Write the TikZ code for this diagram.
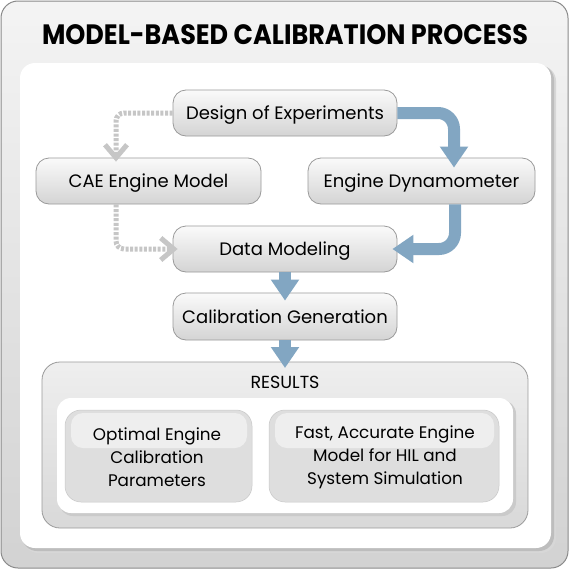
\documentclass[tikz,border=0pt]{standalone}
\usepackage{fontspec}
\setmainfont{Poppins}
\usetikzlibrary{arrows.meta}
\definecolor{frameborder}{HTML}{8A8A8A}
\definecolor{frametop}{HTML}{F4F4F4}
\definecolor{framebot}{HTML}{D2D2D2}
\definecolor{boxtop}{HTML}{FAFAFA}
\definecolor{boxbot}{HTML}{D4D4D4}
\definecolor{boxborder}{HTML}{9A9A9A}
\definecolor{flowblue}{HTML}{82A6C2}
\definecolor{dotgray}{HTML}{C6C6C6}
\definecolor{shadowgray}{HTML}{BDBDBD}
\definecolor{subfill}{HTML}{DEDEDE}
\definecolor{subhigh}{HTML}{EEEEEE}
\begin{document}
\begin{tikzpicture}[x=1pt,y=-1pt,
  stepbox/.style={draw=boxborder, line width=0.8pt, rounded corners=13pt,
    top color=boxtop, bottom color=boxbot, minimum width=224pt,
    minimum height=46pt, inner sep=0pt, text height=16pt, text depth=2.5pt,
    font=\fontsize{18}{21}\selectfont},
  bluearrow/.style={draw=flowblue, line width=12pt, rounded corners=16pt,
    -{Triangle[length=21pt,width=27pt]}},
  dotarrow/.style={draw=dotgray, line width=5pt, rounded corners=8pt,
    dash pattern=on 3pt off 1.6pt,
    -{Straight Barb[length=13pt,width=22pt]}},
  subbox/.style={draw=subfill!90!black, line width=0.5pt, fill=subfill,
    rounded corners=16pt, inner sep=0pt, minimum height=92pt},
  subtext/.style={align=center, font=\fontsize{16.8}{23}\selectfont},
]
\useasboundingbox (0,0) rectangle (570,570);
% outer frame
\draw[frameborder, line width=1pt, rounded corners=17pt, top color=frametop, bottom color=framebot]
  (1,1) rectangle (568,568);
\node[font=\fontsize{28}{30}\selectfont\bfseries, inner sep=0pt] (title) at (285,35)
  {\scalebox{0.91}[1]{MODEL-BASED CALIBRATION PROCESS}};
% white panel with shadow
\fill[shadowgray!60, rounded corners=15pt] (23,66) rectangle (556,553);
\fill[shadowgray, rounded corners=15pt] (22,65) rectangle (554,551);
\fill[white, rounded corners=15pt] (20,63) rectangle (551,548);
% results panel
\draw[boxborder, line width=0.8pt, rounded corners=18pt, top color=boxtop!70!boxbot, bottom color=boxbot!90!white]
  (42,362) rectangle (528,528);
\node[font=\fontsize{17.5}{20}\selectfont] (reslabel) at (285,382) {RESULTS};
\coordinate (results) at (285,362);
\fill[shadowgray!80, rounded corners=14pt] (59,400) rectangle (516,516);
\fill[white, rounded corners=14pt] (57,398) rectangle (513,513);
\node[subbox, minimum width=187pt] (optbox) at (158.5,456) {};
\node[subbox, minimum width=230pt] (fastbox) at (384,456) {};
\fill[subhigh, rounded corners=12pt] (71,413) rectangle (247,448);
\fill[subhigh, rounded corners=12pt] (275,413) rectangle (494,448);
\node[subtext] (opt) at (157,457.5) {Optimal Engine\\Calibration\\Parameters};
\node[subtext] (fast) at (385,457.5) {Fast, Accurate Engine\\Model for HIL and\\System Simulation};
% process boxes
\node[stepbox] (doe) at (285,113) {Design of Experiments};
\node[stepbox, minimum width=225pt] (cae) at (148.5,181) {CAE Engine Model};
\node[stepbox, minimum width=227pt] (dyn) at (421.5,181) {Engine Dynamometer};
\node[stepbox] (dm) at (285,249) {Data Modeling};
\node[stepbox, minimum height=47pt] (cg) at (285,316.5) {Calibration Generation};
% blue arrows
\draw[bluearrow, shorten >=-10pt] (doe.east) -| ([xshift=32.5pt]dyn.north);
\draw[bluearrow, shorten >=-5pt] ([xshift=33.5pt]dyn.south) |- (dm.east);
\draw[bluearrow, rounded corners=0pt, shorten >=-8pt] (dm.south) -- (cg.north);
\draw[bluearrow, rounded corners=0pt, shorten >=-6pt] (cg.south) -- (results);
% dotted arrows
\draw[dotarrow, shorten >=-4pt] (doe.west) -| ([xshift=-32.5pt]cae.north);
\draw[dotarrow, shorten >=-5pt] ([xshift=-32.5pt]cae.south) |- (dm.west);
\end{tikzpicture}
\end{document}
